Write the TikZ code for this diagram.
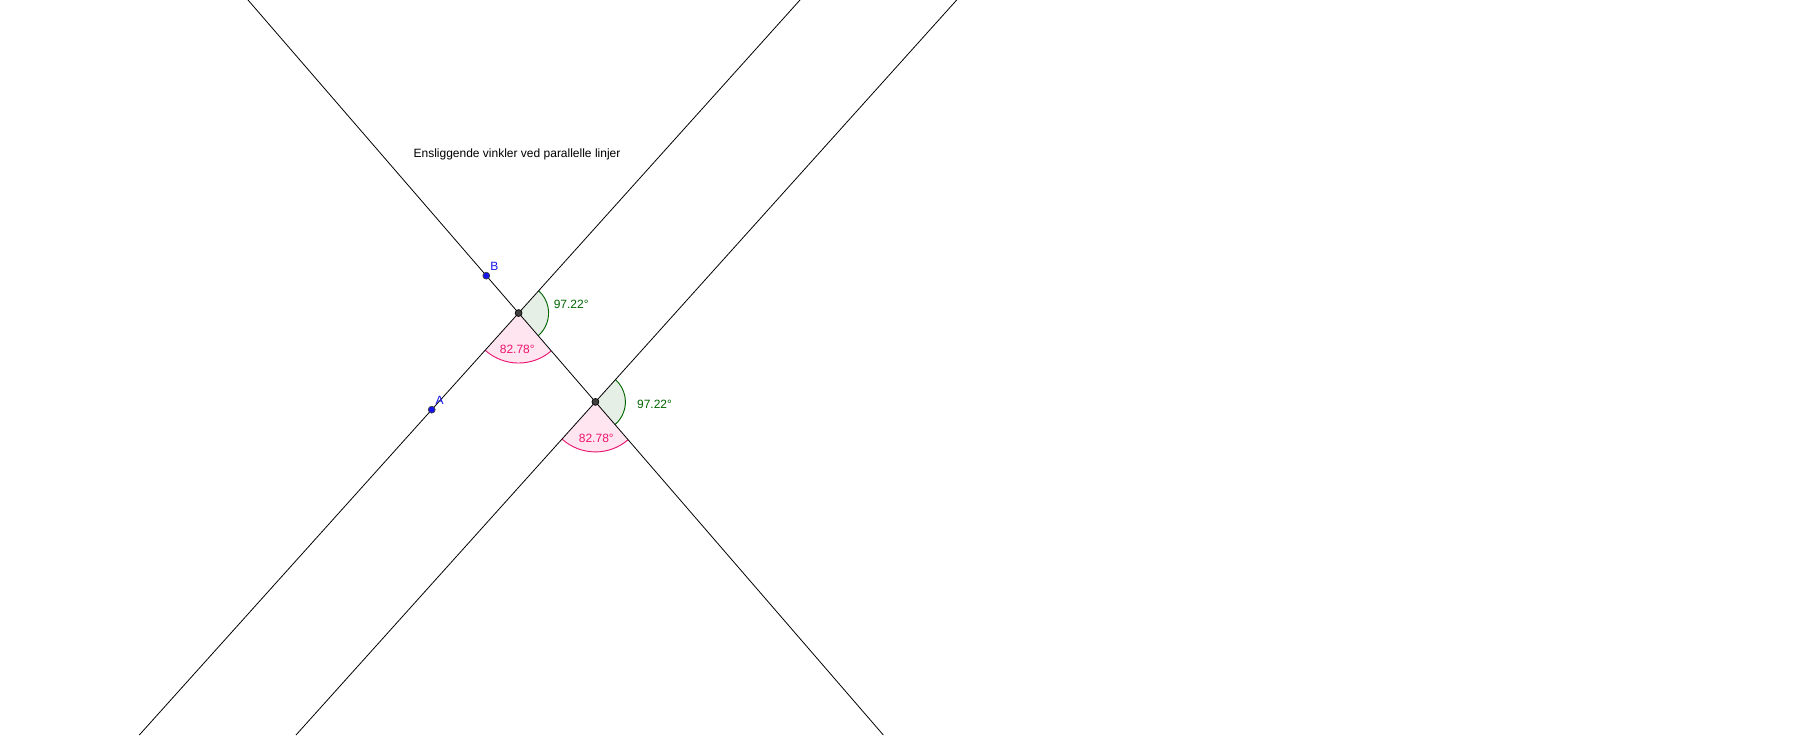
\documentclass[tikz,border=0pt]{standalone}
\usepackage{fontspec}
\setmainfont{Liberation Sans}
\usepackage{tikz}
\usetikzlibrary{calc}

\definecolor{ggbgreen}{RGB}{0,100,0}
\definecolor{ggbgreenfill}{RGB}{229,239,229}
\definecolor{ggbred}{RGB}{235,20,110}
\definecolor{ggbredfill}{RGB}{255,229,240}
\definecolor{ggbblue}{RGB}{20,20,235}
\definecolor{ggbgray}{RGB}{64,64,64}

\begin{document}
\begin{tikzpicture}[x=0.75pt, y=0.75pt, font=\fontsize{9pt}{10.8pt}\selectfont,
  linje/.style={black, line width=0.6pt},
  freept/.style={circle, fill=ggbblue, draw=black!75, line width=0.5pt, inner sep=0pt, minimum size=5.2pt},
  snitt/.style={circle, fill=ggbgray, draw=black, line width=0.5pt, inner sep=0pt, minimum size=5.2pt}]
\useasboundingbox (0,0) rectangle (1820,738);
% ends of the three lines
\coordinate (t1) at (248,738);
\coordinate (t2) at (883.3,3);
\coordinate (m1) at (800,738);
\coordinate (m2) at (139.3,3);
\coordinate (n1) at (956.7,738);
\coordinate (n2) at (296,3);
\coordinate (S1) at (intersection of t1--t2 and m1--m2);
\coordinate (S2) at (intersection of t1--t2 and n1--n2);
% angles
\foreach \s in {S1,S2}{
  \fill[ggbgreenfill] (\s) -- ++(-49.17:30) arc[start angle=-49.17, end angle=48.05, radius=30] -- cycle;
  \draw[ggbgreen, line width=0.7pt] (\s) ++(-49.17:30) arc[start angle=-49.17, end angle=48.05, radius=30];
  \fill[ggbredfill] (\s) -- ++(228.05:50) arc[start angle=228.05, end angle=310.83, radius=50] -- cycle;
  \draw[ggbred, line width=0.7pt] (\s) ++(228.05:50) arc[start angle=228.05, end angle=310.83, radius=50];
}
\draw[linje] (t1) -- (t2);
\draw[linje] (m1) -- (m2);
\draw[linje] (n1) -- (n2);
% points
\path (m1) -- (m2) node[pos=0.5574, freept] (A) {};
\path (t1) -- (t2) node[pos=0.3751, freept] (B) {};
\node[snitt] (s1) at (S1) {};
\node[snitt] (s2) at (S2) {};
\node[text=ggbblue] (labA) at ($(A)+(8,9)$) {A};
\node[text=ggbblue] (labB) at ($(B)+(8,9)$) {B};
% angle labels
\node[text=ggbgreen] (g1) at ($(S1)+(52.6,9)$) {97.22°};
\node[text=ggbgreen] (g2) at ($(S2)+(59.1,-2.1)$) {97.22°};
\node[text=ggbred] (r1) at ($(S1)+(-1.3,-36)$) {82.78°};
\node[text=ggbred] (r2) at ($(S2)+(0.9,-36.4)$) {82.78°};
\node (title) at (517,584) {Ensliggende vinkler ved parallelle linjer};
\end{tikzpicture}
\end{document}
